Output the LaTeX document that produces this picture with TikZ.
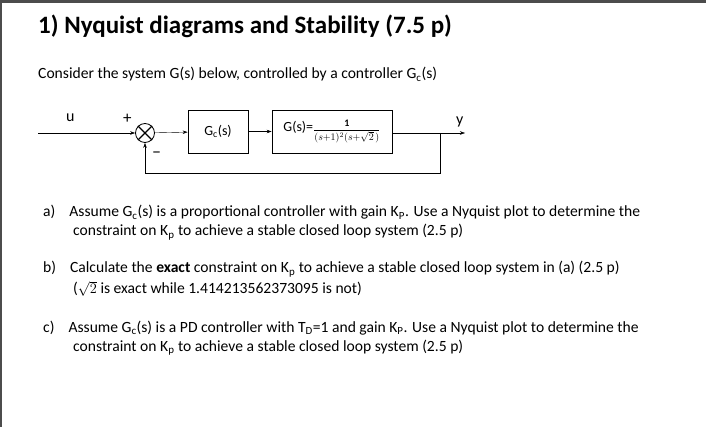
\documentclass[tikz,border=0pt]{standalone}
\usepackage{fontspec}
\setmainfont{Carlito}
\usetikzlibrary{arrows.meta}
\begin{document}
\begin{tikzpicture}[x=1pt,y=-1pt,
  txt/.style={anchor=base west,inner sep=0pt,font=\fontsize{15.6}{18}\selectfont},
  blk/.style={draw,thick,minimum height=43pt,inner sep=2pt},
  arr/.style={-{Stealth[length=5pt,width=3.5pt]},thin},
  ln/.style={thin}]
\useasboundingbox (0,0) rectangle (706,427);
\fill[white] (0,0) rectangle (706,427);
\fill[black!70] (0,0) rectangle (706,3.5);
\fill[black!70] (0,0) rectangle (2,427);
\node[txt,font=\bfseries\fontsize{25}{28}\selectfont] (title) at (38,34) {1) Nyquist diagrams and Stability (7.5 p)};
\node[txt] (intro) at (38,79) {Consider the system G(s) below, controlled by a controller G\textsubscript{c}(s)};
% block diagram
\coordinate (in) at (38,133);
\node[draw,thick,circle,minimum size=19pt,inner sep=0pt] (sum) at (145,133) {};
\draw[very thick] (sum.north west) -- (sum.south east);
\draw[very thick] (sum.south west) -- (sum.north east);
\node[blk,minimum width=60pt] (gc) at (218,131.5) {\fontsize{14}{16}\selectfont G\textsubscript{c}(s)};
\node[blk,minimum width=120pt] (g) at (332,131.5) {\fontsize{14}{16}\selectfont G(s)=\raisebox{-1pt}{\fontsize{10}{11}\selectfont$\displaystyle\frac{\mathbf{1}}{(s{+}1)^2(s{+}\sqrt{2}\,)}$}};
\coordinate (out) at (465,133);
\coordinate (tap) at (440,133);
\coordinate (fb) at (440,173);
\coordinate (fb2) at (145,173);
\draw[arr] (in) -- (sum);
\draw[arr] (sum) -- (gc);
\draw[arr] (gc) -- (g.west|-gc);
\draw[arr] (g.east|-out) -- (out);
\draw[ln] (tap) -- (fb) -- (fb2);
\draw[arr] (fb2) -- (sum.south);
\node[txt,font=\fontsize{16}{18}\selectfont] (u) at (66,122) {u};
\node[txt,font=\fontsize{16}{18}\selectfont] (y) at (456,125) {y};
\node[txt,font=\fontsize{17}{18}\selectfont] (plus) at (123,124) {+};
\node[txt,font=\fontsize{18}{18}\selectfont] (minus) at (152,158) {--};
% questions
\node[txt] (a1) at (43,217) {a)\hspace{14pt}Assume G\textsubscript{c}(s) is a proportional controller with gain K\textsubscript{P}. Use a Nyquist plot to determine the};
\node[txt] (a2) at (73,236) {constraint on K\textsubscript{p} to achieve a stable closed loop system (2.5 p)};
\node[txt] (b1) at (43,273) {b)\hspace{14pt}Calculate the \textbf{exact} constraint on K\textsubscript{p} to achieve a stable closed loop system in (a) (2.5 p)};
\node[txt] (b2) at (73,294) {($\sqrt{2}$ is exact while 1.414213562373095 is not)};
\node[txt] (c1) at (43,332) {c)\hspace{14pt}Assume G\textsubscript{c}(s) is a PD controller with T\textsubscript{D}=1 and gain K\textsubscript{P}. Use a Nyquist plot to determine the};
\node[txt] (c2) at (73,351) {constraint on K\textsubscript{p} to achieve a stable closed loop system (2.5 p)};
\end{tikzpicture}
\end{document}
